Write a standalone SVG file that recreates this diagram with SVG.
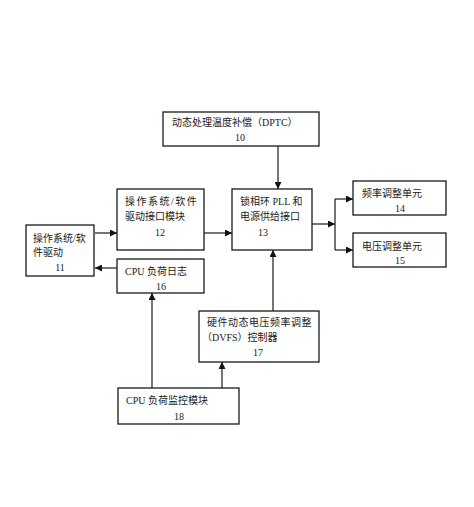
<svg xmlns="http://www.w3.org/2000/svg" width="474" height="507" viewBox="0 0 474 507">
<defs>
<marker id="ah" viewBox="0 0 10 10" refX="10" refY="5" markerWidth="7" markerHeight="7" markerUnits="userSpaceOnUse" orient="auto">
<path d="M0,0 L10,5 L0,10 Z" fill="#111"/>
</marker>
<style>
.box{fill:#fff;stroke:#1a1a1a;stroke-width:1.3}
.t{font-family:"Liberation Serif","Noto Sans CJK SC",serif;font-size:10px;fill:#1a1a1a}
.c{text-anchor:middle}
.ln{fill:none;stroke:#1a1a1a;stroke-width:1.2}
.a{marker-end:url(#ah)}
</style>
</defs>
<rect width="474" height="507" fill="#fff"/>
<g id="connectors">
<path class="ln a" d="M278,146 V189"/>
<path class="ln a" d="M95,233 H117"/>
<path class="ln a" d="M204,233 H232"/>
<path class="ln a" d="M117,268 H95"/>
<path class="ln a" d="M312,224 H335"/>
<path class="ln" d="M335,199 V250"/>
<path class="ln a" d="M335,199 H353"/>
<path class="ln a" d="M335,250 H353"/>
<path class="ln a" d="M273,311 V250"/>
<path class="ln a" d="M152,388 V293"/>
<path class="ln a" d="M222,388 V362"/>
</g>
<g id="n10">
<rect class="box" x="163" y="112" width="156" height="34"/>
<text class="t" x="172" y="126">动态处理温度补偿（DPTC）</text>
<text class="t c" x="240" y="141">10</text>
</g>
<g id="n11">
<rect class="box" x="26" y="225" width="68" height="51"/>
<text class="t" x="33" y="242">操作系统/软</text>
<text class="t" x="33" y="256">件驱动</text>
<text class="t c" x="60" y="271">11</text>
</g>
<g id="n12">
<rect class="box" x="117" y="189" width="87" height="61"/>
<text class="t" x="125" y="205" letter-spacing="1.5">操作系统/软件</text>
<text class="t" x="125" y="220">驱动接口模块</text>
<text class="t c" x="160" y="236">12</text>
</g>
<g id="n13">
<rect class="box" x="232" y="189" width="80" height="61"/>
<text class="t" x="240" y="205">锁相环 PLL 和</text>
<text class="t" x="240" y="220">电源供给接口</text>
<text class="t c" x="263" y="236">13</text>
</g>
<g id="n14">
<rect class="box" x="353" y="181" width="93" height="34"/>
<text class="t" x="362" y="197">频率调整单元</text>
<text class="t c" x="400" y="212">14</text>
</g>
<g id="n15">
<rect class="box" x="353" y="233" width="93" height="34"/>
<text class="t" x="362" y="250">电压调整单元</text>
<text class="t c" x="400" y="264">15</text>
</g>
<g id="n16">
<rect class="box" x="117" y="259" width="87" height="34"/>
<text class="t" x="125" y="275">CPU 负荷日志</text>
<text class="t c" x="161" y="290">16</text>
</g>
<g id="n17">
<rect class="box" x="199" y="311" width="120" height="51"/>
<text class="t" x="207" y="326" letter-spacing="0.5">硬件动态电压频率调整</text>
<text class="t" x="202" y="341">（DVFS）控制器</text>
<text class="t c" x="258" y="356">17</text>
</g>
<g id="n18">
<rect class="box" x="118" y="388" width="121" height="36"/>
<text class="t" x="126" y="404">CPU 负荷监控模块</text>
<text class="t c" x="179" y="420">18</text>
</g>
</svg>
